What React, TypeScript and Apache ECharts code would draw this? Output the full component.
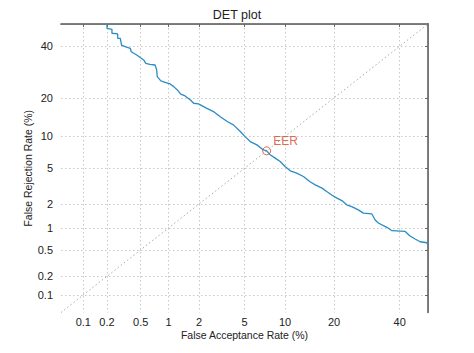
import React, { useEffect, useRef } from "react";
import * as echarts from "echarts";

// Tick labels (percent) used on both axes
const tickLabels = [0.1, 0.2, 0.5, 1, 2, 5, 10, 20, 40];
const axisMinPct = 0.05;
const axisMaxPct = 50;

// DET curve: false acceptance rate (%) and false rejection rate (%)
const falseAcceptance = [
  0.2, 0.2, 0.23, 0.23, 0.27, 0.27, 0.29, 0.3, 0.33, 0.38, 0.39, 0.45, 0.49, 0.54, 0.57,
  0.63, 0.72, 0.75, 0.76, 0.83, 0.92, 1.04, 1.13, 1.23, 1.33, 1.47, 1.66, 1.78, 1.98, 2.37,
  2.72, 3.13, 3.59, 4.05, 4.62, 5.05, 5.55, 6.25, 7.0, 7.4, 7.85, 8.53, 9.25, 10.0, 10.84,
  11.95, 13.2, 14.5, 15.6, 17.1, 18.2, 19.4, 20.7, 22.0, 23.3, 24.7, 26.6, 28.1, 30.7, 31.8,
  32.8, 35.6, 37.3, 41.9, 43.6, 45.4, 47.2, 49.6, 50,
];
const falseRejection = [
  50, 48.0, 47.6, 45.8, 45.5, 43.5, 43.5, 40.5, 39.8, 39.1, 37.6, 36.2, 35.2, 34.1, 32.7,
  32.3, 32.0, 30.0, 27.4, 25.8, 25.3, 24.7, 23.75, 22.6, 21.2, 20.6, 19.3, 18.3, 18.1, 16.8,
  15.9, 14.5, 13.3, 12.5, 11.0, 9.95, 9.0, 8.4, 7.55, 7.4, 6.8, 6.3, 5.83, 5.2, 4.7,
  4.45, 4.1, 3.6, 3.33, 3.06, 2.8, 2.56, 2.35, 2.2, 1.96, 1.86, 1.7, 1.55, 1.52, 1.27,
  1.16, 1.02, 0.92, 0.9, 0.78, 0.71, 0.65, 0.63, 0.59,
];

// Equal error rate point (%)
const eer = [7.4, 7.4];
// Chance diagonal endpoints (%)
const diagonal = [
  [0.05, 0.05],
  [50, 50],
];

// inverse standard normal CDF (Acklam)
function probit(p: number): number {
  const a = [-3.969683028665376e1, 2.209460984245205e2, -2.759285104469687e2, 1.38357751867269e2, -3.066479806614716e1, 2.506628277459239];
  const b = [-5.447609879822406e1, 1.615858368580409e2, -1.556989798598866e2, 6.680131188771972e1, -1.328068155288572e1];
  const c = [-7.784894002430293e-3, -3.223964580411365e-1, -2.400758276161838, -2.549732539343734, 4.374664141464968, 2.938163982698783];
  const d = [7.784695709041462e-3, 3.224671290700398e-1, 2.445134137142996, 3.754408661907416];
  const plow = 0.02425;
  const phigh = 1 - plow;
  if (p < plow) {
    const q = Math.sqrt(-2 * Math.log(p));
    return (((((c[0] * q + c[1]) * q + c[2]) * q + c[3]) * q + c[4]) * q + c[5]) / ((((d[0] * q + d[1]) * q + d[2]) * q + d[3]) * q + 1);
  }
  if (p <= phigh) {
    const q = p - 0.5;
    const r = q * q;
    return ((((((a[0] * r + a[1]) * r + a[2]) * r + a[3]) * r + a[4]) * r + a[5]) * q) / (((((b[0] * r + b[1]) * r + b[2]) * r + b[3]) * r + b[4]) * r + 1);
  }
  const q = Math.sqrt(-2 * Math.log(1 - p));
  return -(((((c[0] * q + c[1]) * q + c[2]) * q + c[3]) * q + c[4]) * q + c[5]) / ((((d[0] * q + d[1]) * q + d[2]) * q + d[3]) * q + 1);
}
const z = (pct: number) => probit(pct / 100);

const FONT = "Liberation Sans, Arial, sans-serif";

export default function App() {
  const ref = useRef<HTMLDivElement>(null);
  useEffect(() => {
    document.body.style.margin = "0";
    if (!ref.current) return;
    const chart = echarts.init(ref.current, null, { renderer: "svg" });
    const tickZ = tickLabels.map(z);
    const fmt = (v: number) => {
      for (let i = 0; i < tickZ.length; i++) if (Math.abs(tickZ[i] - v) < 1e-6) return String(tickLabels[i]);
      return "";
    };
    const min = z(axisMinPct);
    const max = z(axisMaxPct);
    const mainLine = { show: true, lineStyle: { color: "#555", width: 1.5 } };
    const sideLine = { show: true, lineStyle: { color: "#777", width: 1 } };
    const hiddenTick = { show: false, customValues: tickZ };
    const innerTick = { show: true, inside: true, length: 3, customValues: tickZ, lineStyle: { color: "#666", width: 1 } };
    const grid = { show: true, lineStyle: { color: "#c8c8c8", type: [1.5, 2.5] as any, width: 1 } };
    const label = { show: true, customValues: tickZ, formatter: fmt, color: "#222", fontSize: 11, fontFamily: FONT };

    const option: any = {
      animation: false,
      backgroundColor: "#fff",
      title: {
        text: "DET plot",
        left: "center",
        top: 3,
        textStyle: { fontSize: 12.5, fontWeight: "normal", color: "#222", fontFamily: FONT },
      },
      grid: { left: 61, right: 46, top: 24, bottom: 40.5 },
      xAxis: [
        {
          type: "value",
          min,
          max,
          position: "bottom",
          name: "False Acceptance Rate (%)",
          nameLocation: "middle",
          nameGap: 17,
          nameMoveOverlap: false,
          nameTextStyle: { fontSize: 10.5, color: "#222", fontFamily: FONT },
          axisLine: mainLine,
          axisTick: hiddenTick,
          axisLabel: { ...label, margin: 4 },
          splitLine: grid,
        },
        {
          type: "value",
          min,
          max,
          position: "top",
          axisLine: sideLine,
          axisTick: innerTick,
          axisLabel: { show: false },
          splitLine: { show: false },
        },
      ],
      yAxis: [
        {
          type: "value",
          min,
          max,
          position: "left",
          name: "False Rejection Rate (%)",
          nameLocation: "middle",
          nameGap: 28,
          nameMoveOverlap: false,
          nameTextStyle: { fontSize: 10.5, color: "#222", fontFamily: FONT },
          axisLine: mainLine,
          axisTick: hiddenTick,
          axisLabel: { ...label, margin: 8 },
          splitLine: grid,
        },
        {
          type: "value",
          min,
          max,
          position: "right",
          axisLine: sideLine,
          axisTick: innerTick,
          axisLabel: { show: false },
          splitLine: { show: false },
        },
      ],
      series: [
        {
          type: "line",
          data: diagonal.map(([x, y]) => [z(x), z(y)]),
          symbol: "none",
          lineStyle: { color: "#a8a8a8", width: 1, type: [1.5, 2.5] },
          silent: true,
        },
        {
          type: "line",
          data: falseAcceptance.map((fa, i) => [z(fa), z(falseRejection[i])]),
          symbol: "none",
          lineStyle: { color: "#2b8cc4", width: 1.3 },
          clip: true,
        },
        {
          type: "scatter",
          data: [[z(eer[0]), z(eer[1])]],
          symbol: "circle",
          symbolSize: 8,
          itemStyle: { color: "rgba(0,0,0,0)", borderColor: "#d4462a", borderWidth: 1 },
          label: {
            show: true,
            formatter: "EER",
            position: "right",
            distance: 2,
            offset: [0, -10],
            color: "#d4462a",
            fontSize: 12,
            fontFamily: FONT,
          },
          z: 5,
        },
      ],
    };
    chart.setOption(option);
    return () => chart.dispose();
  }, []);
  return <div ref={ref} style={{ width: 474, height: 353 }} />;
}
